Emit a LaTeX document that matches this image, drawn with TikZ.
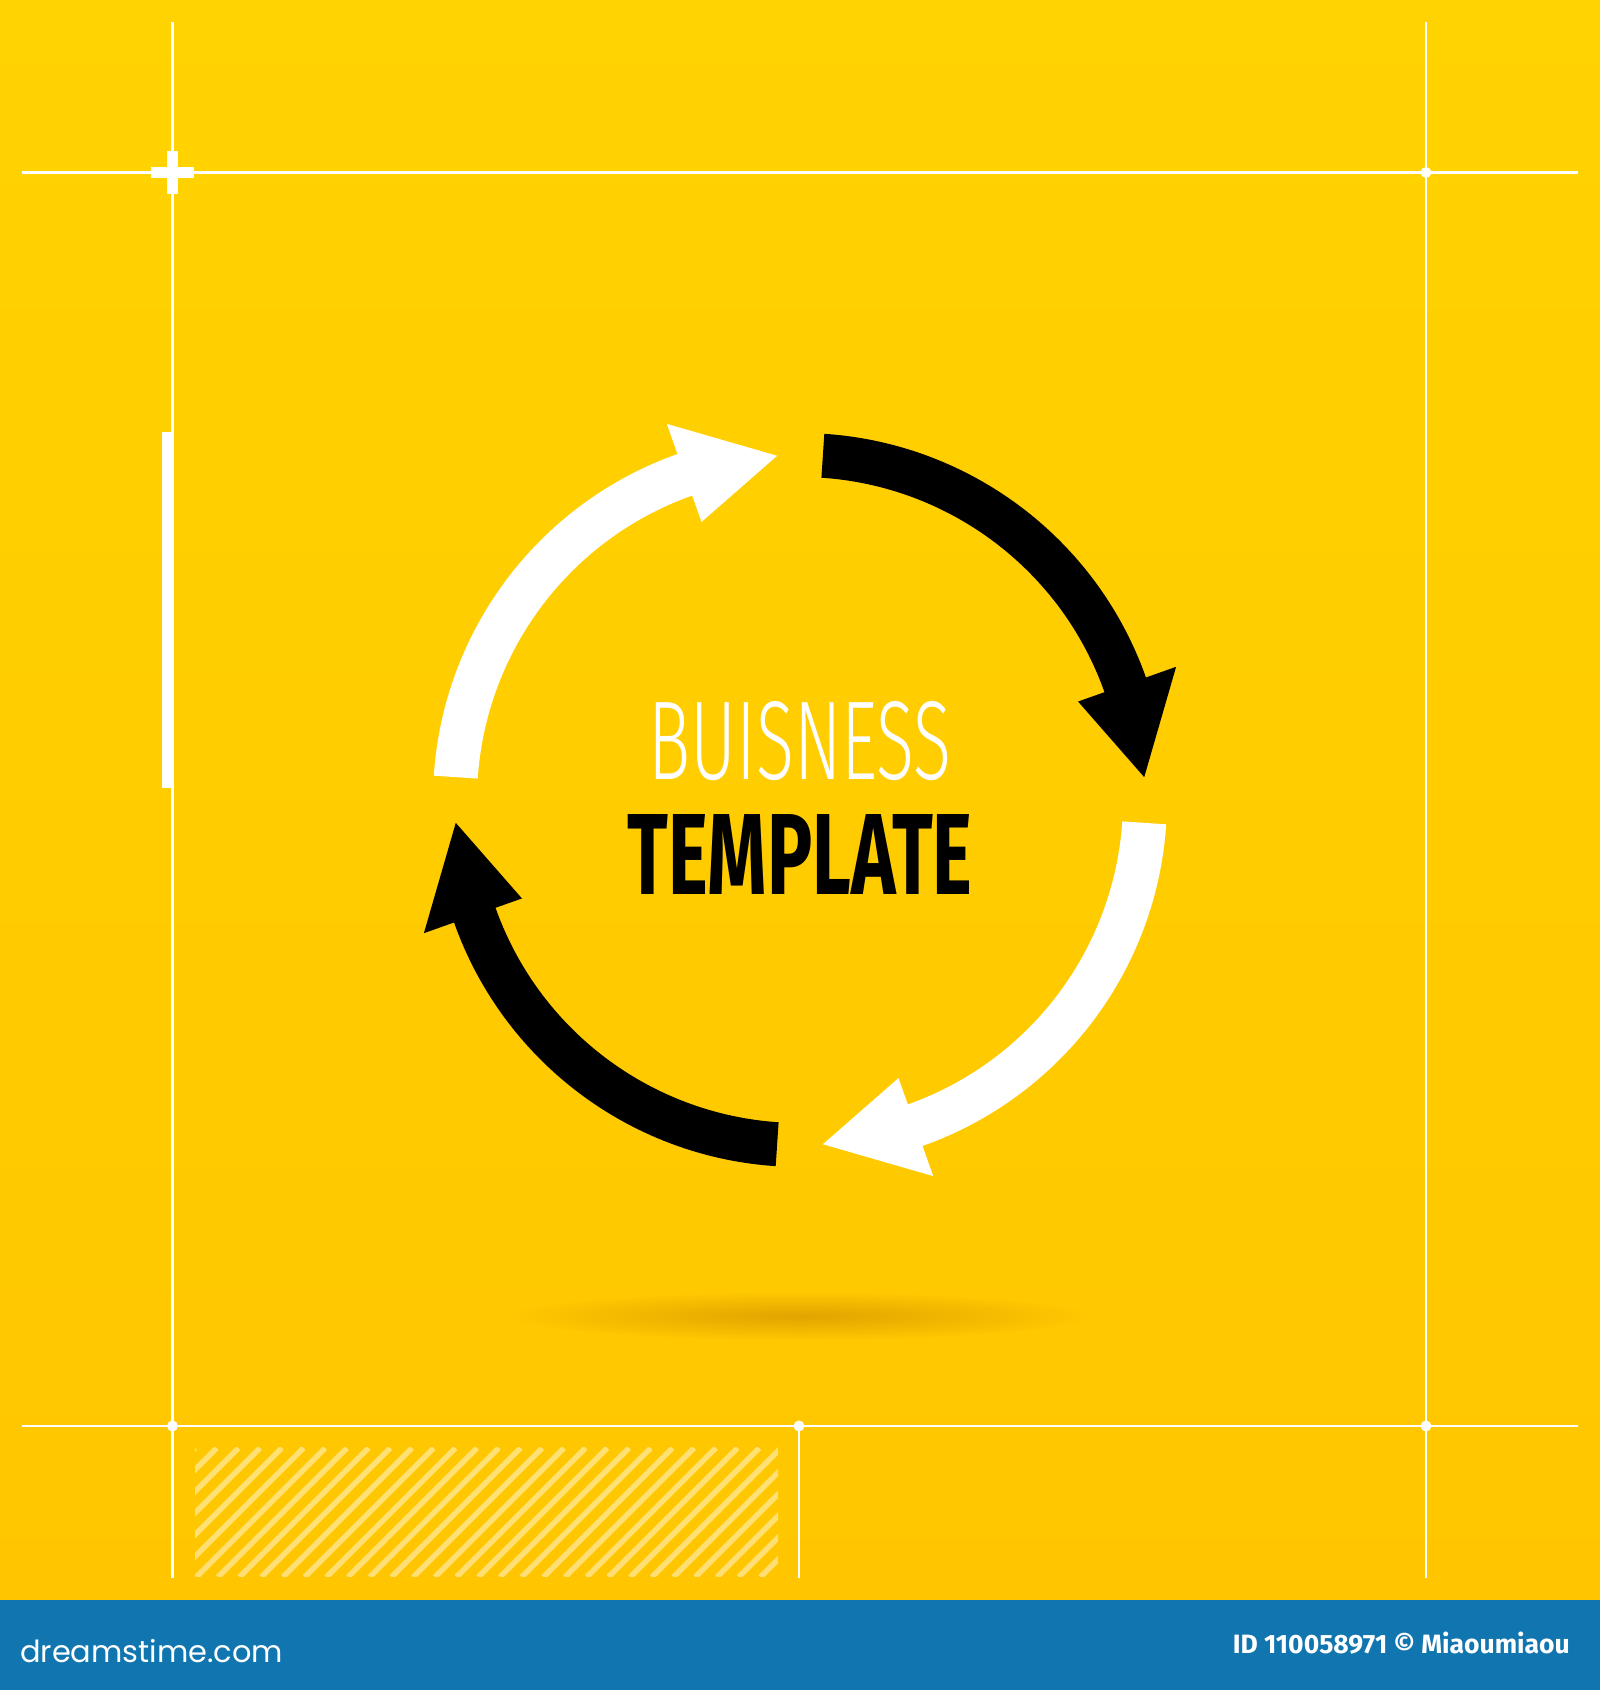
\documentclass[tikz,border=0pt]{standalone}
\usepackage{fontspec}
\usepackage{graphicx}
\usepackage{tikz}
\usetikzlibrary{calc,fadings}

\newfontfamily\thinfont{Fira Sans Light}
\newfontfamily\heavyfont{Fira Sans}
\newfontfamily\logofont{Poppins}

\definecolor{bgTop}{RGB}{255,211,0}
\definecolor{bgBot}{RGB}{255,198,0}
\definecolor{footBlue}{RGB}{17,118,176}
\definecolor{shadowC}{RGB}{190,120,0}
\tikzfading[name=shadowfade, inner color=transparent!55, outer color=transparent!100]

\begin{document}
\begin{tikzpicture}[x=1pt,y=1pt,
  guide/.style={draw=white, line width=2.8},
  guidedot/.style={fill=white},
  hatch/.style={draw=white, opacity=0.45, line width=5.5}]
\def\ri{323}
\def\ro{367}
\def\hi{295}
\def\ho{399}
\def\rmid{345}
\def\cyclearrow#1#2#3#4{%
  \fill[#1] ($(O)+(#2:\ro)$) arc[start angle=#2, end angle=#3, radius=\ro]
    -- ($(O)+(#3:\ho)$) -- ($(O)+(#4:\rmid)$) -- ($(O)+(#3:\hi)$)
    -- ($(O)+(#3:\ri)$) arc[start angle=#3, end angle=#2, radius=\ri] -- cycle;}
\useasboundingbox (0,0) rectangle (1600,1690);
% background and footer
\shade[top color=bgTop, bottom color=bgBot] (0,90) rectangle (1600,1690);
\fill[footBlue] (0,0) rectangle (1600,90);
% guide frame
\coordinate (TL) at (172.5,1517.5);
\coordinate (TR) at (1426,1517.5);
\coordinate (BL) at (172.5,264);
\coordinate (BM) at (799,264);
\coordinate (BR) at (1426,264);
\draw[guide] (22,1517.5) -- (1578,1517.5);
\draw[guide] (22,264) -- (1578,264);
\draw[guide] (172.5,1668) -- (172.5,112);
\draw[guide] (1426,1668) -- (1426,112);
\draw[guide] (BM) -- (799,112);
\fill[white] ($(TL)+(-21.5,-5.5)$) rectangle ($(TL)+(21.5,5.5)$);
\fill[white] ($(TL)+(-5.5,-21.5)$) rectangle ($(TL)+(5.5,21.5)$);
\fill[guidedot] (TR) circle[radius=5.5];
\fill[guidedot] (BL) circle[radius=5.5];
\fill[guidedot] (BM) circle[radius=5.5];
\fill[guidedot] (BR) circle[radius=5.5];
\fill[white] (162,902) rectangle (173,1258);
% hatched block
\begin{scope}
  \clip (195,113) rectangle (778,242);
  \foreach \k in {0,...,40}
    \draw[hatch] ({66+\k*21.7},113) -- ++(129,129);
\end{scope}
% shadow under the cycle
\fill[shadowC, path fading=shadowfade] (800,374) ellipse[x radius=290, y radius=24];
% cycle of arrows
\coordinate (O) at (800,890);
\cyclearrow{white}{176.2}{109.5}{93.8}
\cyclearrow{black}{86.2}{19.5}{3.8}
\cyclearrow{white}{-3.8}{-70.5}{-86.2}
\cyclearrow{black}{-93.8}{-160.5}{-176.2}
% title
\node[white, inner sep=0, anchor=base] (title) at (800,910) {\resizebox{303pt}{78pt}{\thinfont BUISNESS}};
\node[black, inner sep=0, anchor=base] (subtitle) at (800,795) {\resizebox{345pt}{80pt}{\heavyfont\bfseries TEMPLATE}};
% footer texts
\node[white, inner sep=0, anchor=base west] (site) at (20,27) {\resizebox{263pt}{!}{\logofont dreamstime.com}};
\node[white, inner sep=0, anchor=base east] (credit) at (1570,36) {\resizebox{337pt}{!}{\heavyfont\bfseries ID 110058971 © Miaoumiaou}};
\end{tikzpicture}
\end{document}
